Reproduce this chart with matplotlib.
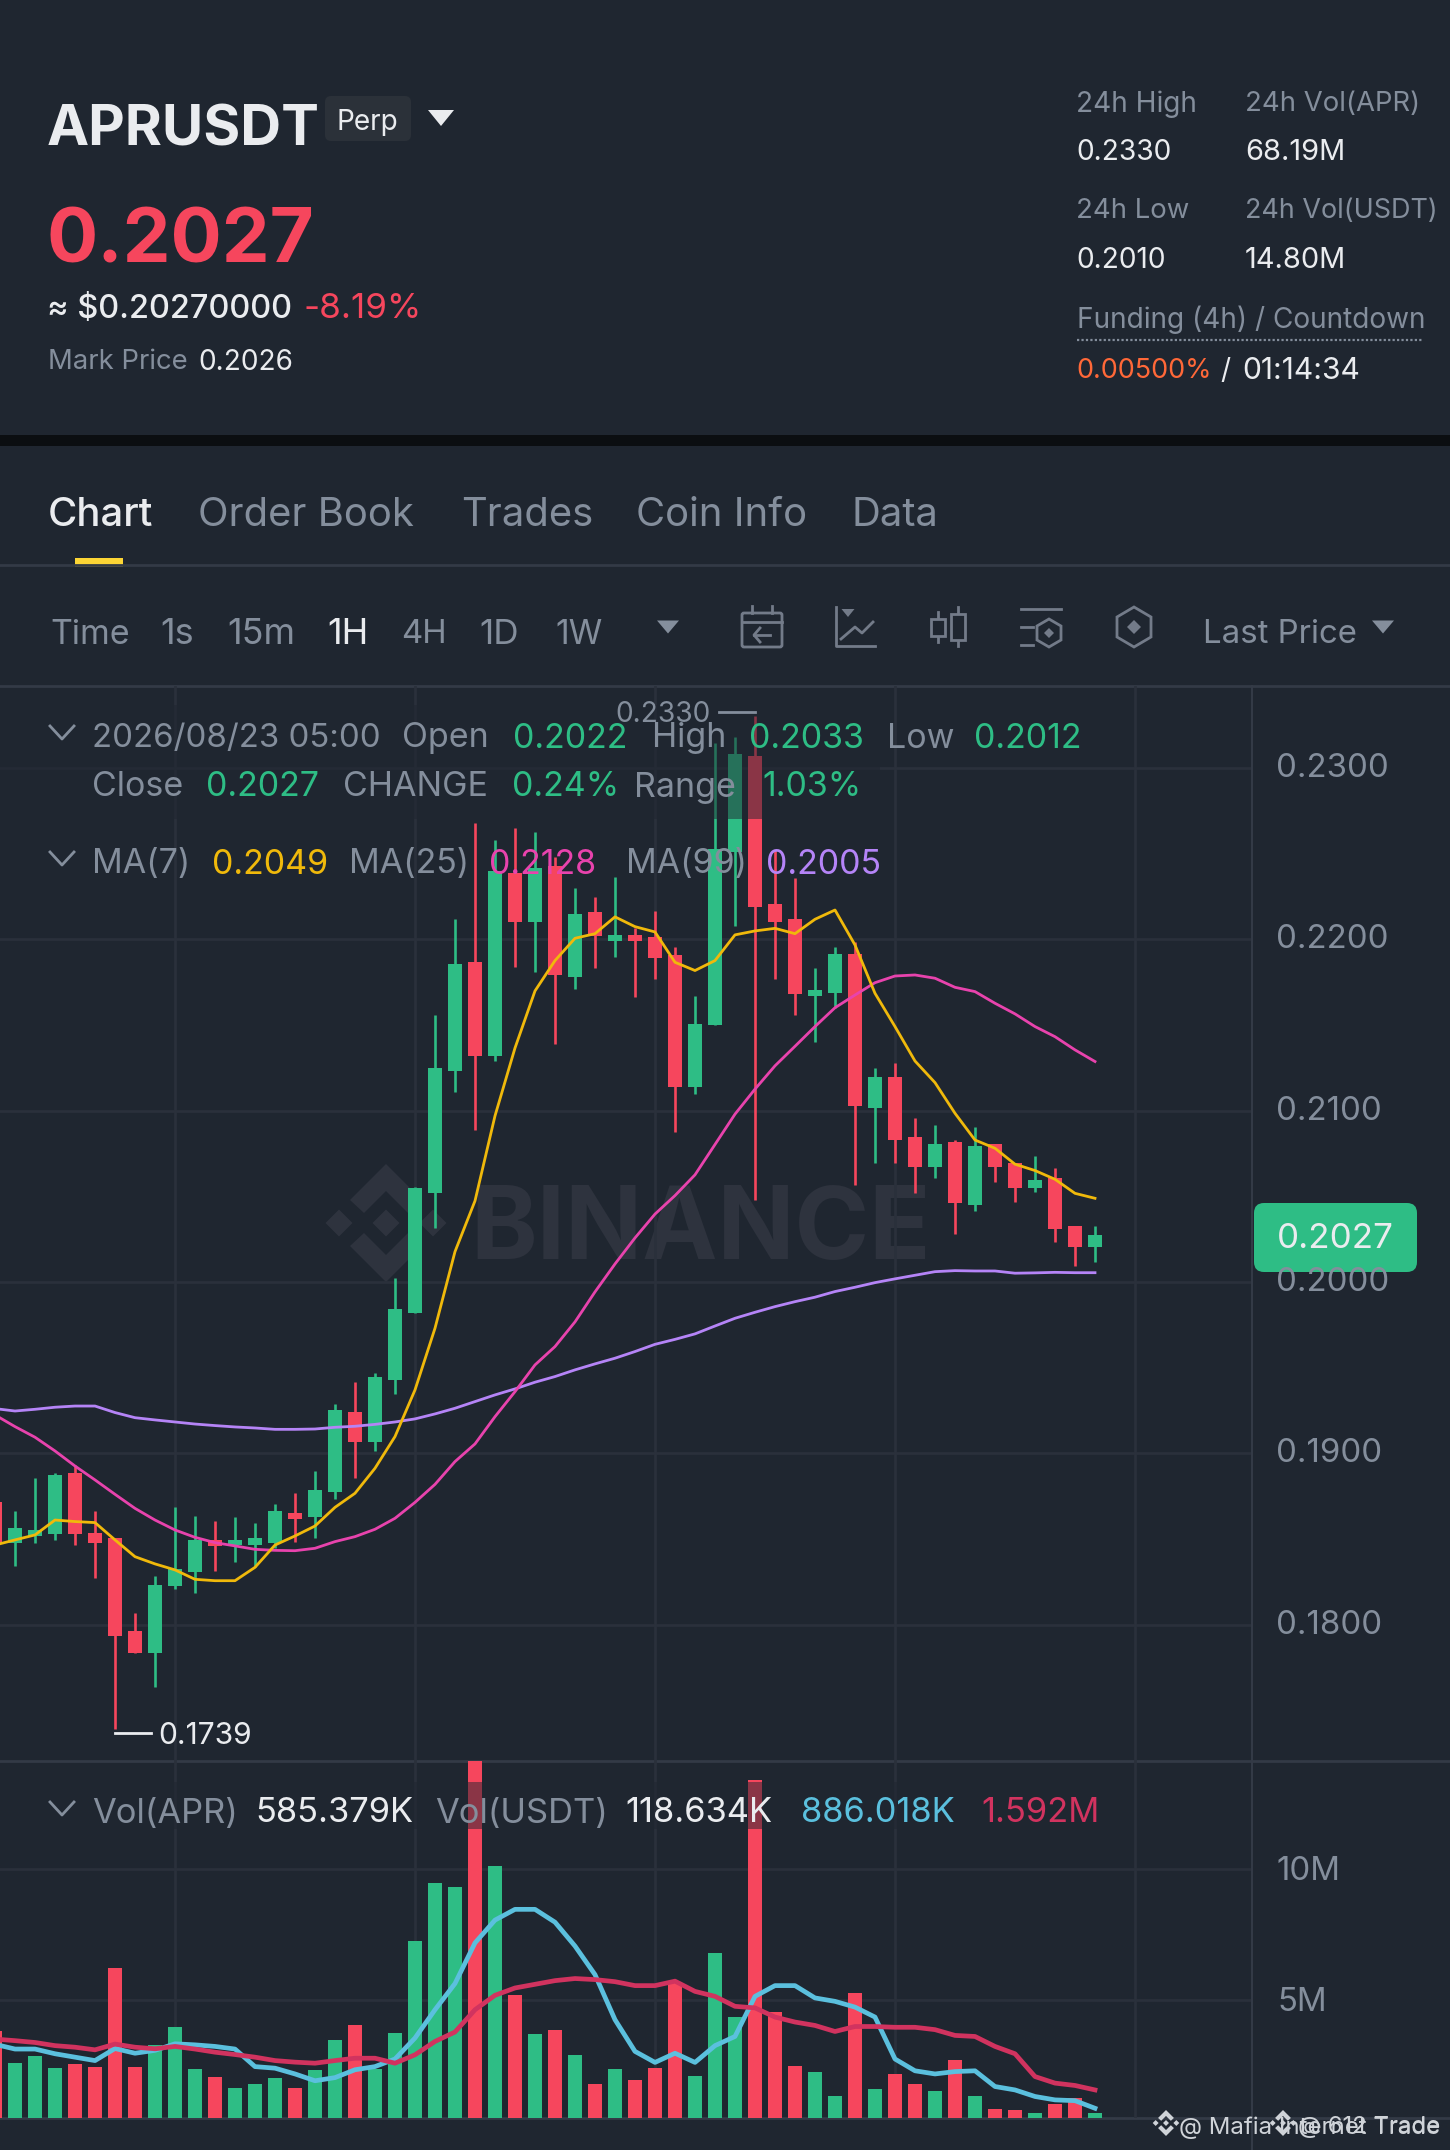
import matplotlib
matplotlib.use('Agg')
import matplotlib.pyplot as plt
from matplotlib.patches import Rectangle, FancyBboxPatch, Polygon

plt.rcParams['font.family'] = ['Inter', 'DejaVu Sans']

BG = '#1f2630'
GRID = '#2a303b'
LINE = '#333a46'
GREEN = '#2ebd85'
RED = '#f6465d'
GREY = '#848e9c'
ICON = '#737b89'
WHITE = '#eaecef'
MARK = '#2e333e'
SHARE = '#cfd3d8'

# hourly candles, left to right
opens = [.18714, .18479, .1852, .18528, .18884, .18533, .18504, .17964, .17837, .18228,
         .18306, .18495, .18465, .18465, .18475, .18654, .18627, .18777, .19243, .19068,
         .19428, .19817, .20521, .21229, .21865, .21319, .22386, .221, .22427, .21779,
         .22157, .2199, .22025, .22015, .21907, .2114, .215, .22507, .23067, .22205,
         .22115, .21671, .21688, .21914, .21017, .21194, .20844, .20669, .20815, .20449,
         .20805, .20692, .20546, .20605, .20327, .20206]
highs = [.188, .18666, .18854, .18884, .18932, .18666, .18504, .18067, .18285, .18685,
         .18635, .18605, .18627, .18596, .18705, .18767, .18895, .19286, .19415, .19467,
         .20025, .20555, .21557, .22117, .22678, .22578, .2265, .22625, .2248, .22298,
         .22246, .22365, .22063, .22167, .21955, .21667, .23146, .23178, .2330, .22521,
         .22359, .21834, .21956, .21986, .21247, .21276, .20955, .20914, .20828, .20906,
         .20805, .20692, .20735, .20663, .20327, .20327]
lows = [.184, .18345, .18475, .18495, .18465, .18275, .1739, .17837, .17635, .18207,
        .18187, .18316, .18364, .18339, .18446, .18485, .18504, .18734, .18854, .19014,
        .19345, .19817, .20317, .21109, .20888, .21288, .21838, .21809, .21386, .21709,
        .21829, .21896, .21661, .21767, .20875, .21098, .215, .22077, .20479, .21767,
        .21557, .214, .21597, .20566, .20696, .20696, .20517, .20605, .20278, .20416,
        .20585, .20465, .20527, .20235, .20095, .20115]
closes = [.18475, .18563, .18553, .18874, .18528, .18479, .17936, .17837, .18234, .18323,
          .18495, .18462, .18495, .18504, .18664, .18619, .18784, .19253, .19068, .19446,
          .19844, .20548, .21246, .21857, .21319, .22396, .221, .22417, .21788, .22146,
          .22021, .22025, .2199, .2189, .2114, .21507, .22525, .23078, .22188, .221,
          .21682, .21704, .21914, .21029, .21194, .20828, .20669, .20805, .20459, .20795,
          .20669, .20546, .20595, .20307, .20206, .20274]

ma7 = [.18465, .18495, .18524, .18611, .18602, .18596, .18495, .18397, .18355, .1832,
       .18265, .18257, .18257, .18335, .18465, .18518, .18576, .18685, .18767, .18913,
       .19098, .1937, .1973, .20177, .20473, .20969, .21365, .21698, .21875, .22005,
       .22032, .2213, .22073, .22042, .21865, .21817, .21875, .22025, .22048, .22063,
       .22032, .22116, .2217, .21966, .21684, .2149, .21289, .21163, .20984, .20828,
       .2078, .20687, .2065, .20599, .20517, .20488]
ma25 = [.19224, .19156, .19094, .19014, .18926, .18845, .18761, .18679, .18611, .18553,
        .1851, .18479, .1846, .1844, .18434, .18432, .18446, .18485, .18514, .18557,
        .18621, .18714, .18819, .18952, .19055, .19214, .1936, .19516, .19623, .19767,
        .19942, .20105, .20257, .20396, .20504, .20625, .20802, .20979, .21125, .21261,
        .21375, .2149, .216, .21674, .21746, .21785, .21791, .21772, .21719, .21694,
        .21626, .21564, .2149, .21431, .21354, .21286]
ma99 = [.19261, .19247, .19257, .19269, .19276, .19276, .19238, .19208, .19195, .19183,
        .19171, .19162, .19154, .19148, .1914, .1914, .19142, .19152, .19158, .19169,
        .19183, .19201, .1923, .19263, .19302, .19341, .19376, .19415, .19448, .19487,
        .19522, .19555, .19594, .19636, .19665, .19697, .19743, .19788, .19823, .19856,
        .19885, .19911, .19944, .19969, .19996, .20018, .20039, .2006, .20066, .20064,
        .20064, .20051, .20053, .20056, .20054, .20054]

# volume in millions
volume = [3.81, 2.60, 2.86, 2.41, 2.56, 2.45, 6.25, 2.45, 3.28, 3.98,
          2.37, 2.07, 1.67, 1.80, 2.03, 1.67, 2.35, 3.47, 4.04, 2.37,
          3.75, 7.28, 9.49, 9.32, 14.2, 10.13, 5.19, 3.72, 3.88, 2.91,
          1.80, 2.37, 1.96, 2.42, 5.66, 2.12, 6.79, 4.36, 13.41, 4.54,
          2.50, 2.26, 1.33, 5.28, 1.61, 2.19, 1.81, 1.53, 2.73, 1.36,
          .87, .82, .69, 1.05, 1.29, .69]
vol_ma_fast = [3.32, 3.14, 3.14, 2.96, 2.83, 2.70, 3.16, 2.98, 3.09, 3.34,
               3.30, 3.24, 3.14, 2.47, 2.41, 2.19, 1.93, 2.05, 2.35, 2.47,
               2.76, 3.56, 4.64, 5.64, 7.19, 8.06, 8.47, 8.47, 7.98, 7.07,
               5.98, 4.26, 3.05, 2.63, 2.98, 2.63, 3.27, 3.62, 5.15, 5.56,
               5.56, 5.09, 4.96, 4.74, 4.36, 2.76, 2.31, 2.19, 2.28, 2.31,
               1.71, 1.58, 1.33, 1.20, 1.17, .88]
vol_ma_slow = [3.52, 3.46, 3.39, 3.27, 3.21, 3.11, 3.33, 3.21, 3.15, 3.24,
               3.14, 3.02, 2.93, 2.83, 2.70, 2.64, 2.60, 2.70, 2.79, 2.79,
               2.60, 2.92, 3.43, 3.79, 4.64, 5.19, 5.47, 5.61, 5.75, 5.83,
               5.79, 5.71, 5.56, 5.56, 5.73, 5.34, 5.15, 4.77, 4.71, 4.36,
               4.17, 4.04, 3.81, 4.00, 4.00, 3.97, 3.97, 3.88, 3.66, 3.62,
               3.24, 2.96, 2.09, 1.84, 1.75, 1.58]

price_ticks = [.18, .19, .20, .21, .22, .23]
price_labels = ['0.1800', '0.1900', '0.2000', '0.2100', '0.2200', '0.2300']
vol_ticks = [5, 10]
vol_labels = ['5M', '10M']
time_grid = [9, 21, 33, 45, 57]

W, H = 1450, 2150
fig = plt.figure(figsize=(W / 100, H / 100), dpi=100, facecolor=BG)


def px_axes(x0, y0, x1, y1, z):
    ax = fig.add_axes([x0 / W, 1 - y1 / H, (x1 - x0) / W, (y1 - y0) / H], zorder=z)
    ax.patch.set_alpha(0)
    return ax


# background layer (bands, watermark), then charts, then the text on top
back = px_axes(0, 0, W, H, 0)
back.set_xlim(0, W)
back.set_ylim(H, 0)
back.axis('off')

top = px_axes(0, 0, W, H, 5)
top.set_xlim(0, W)
top.set_ylim(H, 0)
top.axis('off')


def txt(x, y, s, color=GREY, size=30, weight='normal', ha='left', ax=top):
    ax.text(x, y, s, color=color, fontsize=size * 0.72, fontweight=weight, ha=ha, va='center_baseline')


def tri(x, y, w, h, color):
    top.add_patch(Polygon([(x - w / 2, y - h / 2), (x + w / 2, y - h / 2), (x, y + h / 2)], color=color, lw=0))


def chevron(x, y):
    top.plot([x - 12, x, x + 12], [y - 7, y + 6, y - 7], color=GREY, lw=2)


def diamond(ax, x, y, r, color):
    ax.add_patch(Polygon([(x, y - r), (x + r, y), (x, y + r), (x - r, y)], color=color, lw=0))


def hexagon(x, y, rx, ry):
    top.add_patch(Polygon([(x, y - ry), (x + rx, y - ry / 2), (x + rx, y + ry / 2),
                           (x, y + ry), (x - rx, y + ry / 2), (x - rx, y - ry / 2)],
                          fill=False, ec=ICON, lw=2))


def logo(ax, x, y, k, color):
    # binance mark: two chevrons and three diamonds, 59 px tall at k=1
    chev = [(0, -59), (36, -23), (22, -10), (0, -32), (-22, -10), (-36, -23)]
    ax.add_patch(Polygon([(x + k * a, y + k * b) for a, b in chev], color=color, lw=0))
    ax.add_patch(Polygon([(x + k * a, y - k * b) for a, b in chev], color=color, lw=0))
    for dx in [-47, 0, 47]:
        diamond(ax, x + k * dx, y, k * 13.5, color)


back.add_patch(Rectangle((0, 435), W, 11, color='#0b0e11', lw=0))
back.plot([0, W], [565, 565], color=LINE, lw=2)
back.plot([0, W], [686, 686], color=LINE, lw=2)
back.plot([0, W], [1761, 1761], color=LINE, lw=2)
back.plot([0, W], [2118, 2118], color=LINE, lw=2)
back.plot([1252, 1252], [686, H], color=LINE, lw=1.5)
back.add_patch(Rectangle((75, 558), 48, 9, color='#fcd535', lw=0))

# watermark
txt(470, 1222, 'BINANCE', MARK, 101, 'bold', ax=back)
logo(back, 386, 1223, 1, MARK)

# price panel
ax = px_axes(0, 686, 1251, 1761, 2)
ax.set_xlim(0.25, 62.8)
ax.set_ylim(.17205, .23477)
ax.axis('off')
for p in price_ticks:
    ax.axhline(p, color=GRID, lw=2, zorder=0)
for t in time_grid:
    ax.axvline(t, color=GRID, lw=2, zorder=0)

idx = list(range(len(opens)))
for i in idx:
    c = GREEN if closes[i] > opens[i] else RED
    ax.vlines(i, lows[i], highs[i], color=c, lw=1.9, zorder=2)
    ax.bar(i, abs(closes[i] - opens[i]), bottom=min(opens[i], closes[i]), width=0.7, color=c, lw=0, zorder=2)
ax.plot(idx, ma99, color='#b584f7', lw=2, zorder=3)
ax.plot(idx, ma25, color='#e843ad', lw=2, zorder=3)
ax.plot(idx, ma7, color='#f0b90b', lw=2, zorder=3)

# legend strip dims whatever runs under it
top.add_patch(Rectangle((0, 705), 880, 114, color=BG, alpha=0.5, lw=0, zorder=0))

# volume panel
vx = px_axes(0, 1761, 1251, 2118, 2)
vx.set_xlim(0.25, 62.8)
vx.set_ylim(.509, 14.13)
vx.axis('off')
for v in vol_ticks:
    vx.axhline(v, color=GRID, lw=2, zorder=0)
for t in time_grid:
    vx.axvline(t, color=GRID, lw=2, zorder=0)
vx.bar(idx, volume, width=0.7, lw=0, zorder=2,
       color=[GREEN if closes[i] > opens[i] else RED for i in idx])
vx.plot(idx, vol_ma_fast, color='#5bc0de', lw=3.4, zorder=3)
vx.plot(idx, vol_ma_slow, color='#d1335f', lw=3.4, zorder=3)
top.add_patch(Rectangle((0, 1782), 1130, 47, color=BG, alpha=0.5, lw=0, zorder=0))

# axis labels
for p, s in zip(price_ticks, price_labels):
    txt(1276, 1279 + (.20 - p) * 17140, s, GREY, 33)
for v, s in zip(vol_ticks, vol_labels):
    txt(1277, 1868 + (10 - v) * 26.13, s, GREY, 33)
top.add_patch(FancyBboxPatch((1254, 1203), 163, 69, boxstyle='round,pad=0,rounding_size=10', color=GREEN, lw=0))
txt(1335, 1236, '0.2027', WHITE, 35, ha='center')

# extremes
txt(711, 712, '0.2330', GREY, 28, ha='right')
top.plot([719, 755], [712, 712], color=GREY, lw=2)
top.plot([115, 151], [1733, 1733], color=WHITE, lw=2)
txt(158, 1733, '0.1739', WHITE, 30)

# header
txt(47, 125, 'APRUSDT', WHITE, 56.5, 'bold')
top.add_patch(FancyBboxPatch((325, 96), 86, 45, boxstyle='round,pad=0,rounding_size=6', color='#2b3139', lw=0))
txt(367, 119, 'Perp', WHITE, 28, ha='center')
tri(441, 118, 26, 16, WHITE)
txt(47, 235, '0.2027', RED, 76, 'bold')
txt(47, 306, '≈ $0.20270000', WHITE, 32.5, 'medium')
txt(304, 306, '-8.19%', RED, 35)
txt(48, 359, 'Mark Price', GREY, 27.5)
txt(198, 359, '0.2026', WHITE, 28)

txt(1076, 101, '24h High', GREY, 28)
txt(1245, 101, '24h Vol(APR)', GREY, 27.5)
txt(1076, 150, '0.2330', WHITE, 28)
txt(1245, 150, '68.19M', WHITE, 29)
txt(1076, 208, '24h Low', GREY, 27.5)
txt(1245, 208, '24h Vol(USDT)', GREY, 27)
txt(1076, 257, '0.2010', WHITE, 28)
txt(1245, 257, '14.80M', WHITE, 29)
txt(1077, 317, 'Funding (4h) / Countdown', GREY, 28)
top.plot([1077, 1422], [340, 340], color=GREY, lw=1.6, ls=(0, (1, 1)))
txt(1076, 368, '0.00500%', '#ff6838', 27)
txt(1220, 368, '/', WHITE, 28)
txt(1242, 368, '01:14:34', WHITE, 30)

# tabs
tab_names = ['Chart', 'Order Book', 'Trades', 'Coin Info', 'Data']
tab_x = [48, 198, 461, 636, 852]
for name, x in zip(tab_names, tab_x):
    txt(x, 512, name, WHITE if name == 'Chart' else GREY, 40, 'medium' if name == 'Chart' else 'normal')

# toolbar
tool_names = ['Time', '1s', '15m', '1H', '4H', '1D', '1W']
tool_x = [50, 160, 227, 327, 401, 479, 555]
tool_size = [34, 36, 36, 36, 33, 35, 34]
for name, x, s in zip(tool_names, tool_x, tool_size):
    txt(x, 631, name, WHITE if name == '1H' else GREY, s)
tri(668, 627, 22, 13, GREY)
txt(1203, 631, 'Last Price', GREY, 33)
tri(1383, 627, 22, 13, GREY)

# calendar icon
top.add_patch(FancyBboxPatch((742, 613), 40, 34, boxstyle='round,pad=0,rounding_size=2', fill=False, ec=ICON, lw=2))
top.plot([742, 782], [622, 622], color=ICON, lw=2)
top.plot([752, 752], [606, 613], color=ICON, lw=2)
top.plot([772, 772], [606, 613], color=ICON, lw=2)
top.plot([754, 770], [635, 635], color=ICON, lw=2)
top.plot([760, 754, 760], [628, 635, 642], color=ICON, lw=2)
# line chart icon
top.plot([836, 836, 875], [607, 646, 646], color=ICON, lw=2)
top.plot([841, 855, 862, 873], [639, 627, 633, 622], color=ICON, lw=2)
tri(848, 613, 13, 8, ICON)
# candle icon
top.plot([938, 938], [612, 642], color=ICON, lw=2)
top.plot([958, 958], [607, 646], color=ICON, lw=2)
top.add_patch(Rectangle((931, 619), 14, 17, fc=BG, ec=ICON, lw=2, zorder=3))
top.add_patch(Rectangle((951, 614), 14, 26, fc=BG, ec=ICON, lw=2, zorder=3))
# settings icon
top.plot([1021, 1061], [609, 609], color=ICON, lw=2)
top.plot([1021, 1033], [627, 627], color=ICON, lw=2)
top.plot([1021, 1033], [645, 645], color=ICON, lw=2)
hexagon(1049, 633, 12, 14)
diamond(top, 1049, 633, 5, ICON)
# hexagon icon
hexagon(1134, 627, 17, 20)
diamond(top, 1134, 627, 7, ICON)

# chart legends
chevron(62, 733)
txt(92, 735, '2026/08/23 05:00', GREY, 33)
for x, s, c in [(402, 'Open', GREY), (513, '0.2022', GREEN), (652, 'High', GREY),
                (749, '0.2033', GREEN), (887, 'Low', GREY), (974, '0.2012', GREEN)]:
    txt(x, 735, s, c, 34)
for x, s, c in [(92, 'Close', GREY), (206, '0.2027', GREEN), (343, 'CHANGE', GREY),
                (512, '0.24%', GREEN), (634, 'Range', GREY), (762, '1.03%', GREEN)]:
    txt(x, 784, s, c, 34)
chevron(62, 859)
for x, s, c in [(92, 'MA(7)', GREY), (212, '0.2049', '#f0b90b'), (349, 'MA(25)', GREY),
                (489, '0.2128', '#e843ad'), (626, 'MA(99)', GREY), (766, '0.2005', '#b584f7')]:
    txt(x, 861, s, c, 34)
chevron(62, 1809)
for x, s, c in [(92, 'Vol(APR)', GREY), (255, '585.379K', WHITE), (435, 'Vol(USDT)', GREY),
                (625, '118.634K', WHITE), (801, '886.018K', '#5bc0de'), (981, '1.592M', '#d1335f')]:
    txt(x, 1810, s, c, 34.5)

# share watermarks overlap in the source
txt(1440, 2125, '@ Mafia Internet Trade', SHARE, 24, ha='right')
txt(1440, 2125, '@ 612 Trade', SHARE, 24, ha='right')
logo(top, 1166, 2123, 0.22, SHARE)
logo(top, 1283, 2123, 0.22, SHARE)

fig.savefig('out.png', dpi=100, facecolor=BG)
